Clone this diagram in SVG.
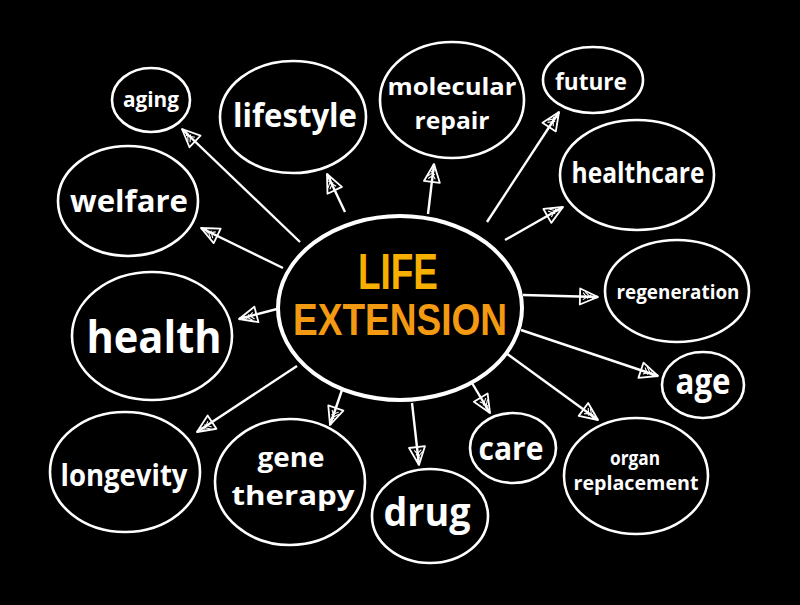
<svg xmlns="http://www.w3.org/2000/svg" width="800" height="605" viewBox="0 0 800 605">
<defs>
<style>
.bub{fill:none;stroke:#fff;stroke-width:2.6}
.t{fill:#fff;font-family:"Open Sans","Liberation Sans",sans-serif;font-weight:700;text-anchor:middle}
.c{font-family:"Liberation Sans","Open Sans",sans-serif;font-weight:700;text-anchor:middle}
.ln{stroke:#fff;stroke-width:2.4;fill:none}
</style>
<marker id="ah" viewBox="-2 -10 22 20" refX="18" refY="0" markerWidth="22" markerHeight="20" markerUnits="userSpaceOnUse" orient="auto">
<path d="M0,-8 L18,0 L0,8 Z" fill="none" stroke="#fff" stroke-width="1.8" stroke-linejoin="round"/>
<path d="M3,-4 L8,2 M5,-5 L11,1 M3,3 L9,-1 M10,-2 L13,2" stroke="#fff" stroke-width="1.1" fill="none"/>
</marker>
</defs>
<rect width="800" height="605" fill="#000"/>
<g id="connectors">
<line class="ln" x1="300" y1="242" x2="182" y2="129" marker-end="url(#ah)"/>
<line class="ln" x1="345" y1="212" x2="327" y2="174" marker-end="url(#ah)"/>
<line class="ln" x1="283" y1="268" x2="201" y2="228" marker-end="url(#ah)"/>
<line class="ln" x1="428" y1="214" x2="434" y2="164" marker-end="url(#ah)"/>
<line class="ln" x1="487" y1="222" x2="559" y2="112" marker-end="url(#ah)"/>
<line class="ln" x1="505" y1="240" x2="563" y2="207" marker-end="url(#ah)"/>
<line class="ln" x1="277" y1="309" x2="239" y2="319" marker-end="url(#ah)"/>
<line class="ln" x1="523" y1="295" x2="598" y2="297" marker-end="url(#ah)"/>
<line class="ln" x1="521" y1="330" x2="658" y2="376" marker-end="url(#ah)"/>
<line class="ln" x1="297" y1="366" x2="197" y2="432" marker-end="url(#ah)"/>
<line class="ln" x1="342" y1="390" x2="330" y2="425" marker-end="url(#ah)"/>
<line class="ln" x1="412" y1="403" x2="419" y2="465" marker-end="url(#ah)"/>
<line class="ln" x1="472" y1="383" x2="490" y2="413" marker-end="url(#ah)"/>
<line class="ln" x1="506" y1="353" x2="598" y2="420" marker-end="url(#ah)"/>
</g>
<g id="center">
<ellipse cx="400" cy="308" rx="122" ry="92" fill="#000" stroke="#fff" stroke-width="4"/>
<text class="c" x="398" y="289" font-size="50" fill="#f8b000" textLength="80" lengthAdjust="spacingAndGlyphs">LIFE</text>
<text class="c" x="400" y="335" font-size="44" fill="#f39a12" textLength="214" lengthAdjust="spacingAndGlyphs">EXTENSION</text>
</g>
<g id="aging"><ellipse class="bub" cx="151" cy="100" rx="39" ry="32"/><text class="t" x="151" y="107" font-size="22" textLength="56" lengthAdjust="spacingAndGlyphs">aging</text></g>
<g id="lifestyle"><ellipse class="bub" cx="293" cy="117" rx="73" ry="56"/><text class="t" x="295" y="127" font-size="32" textLength="124" lengthAdjust="spacingAndGlyphs">lifestyle</text></g>
<g id="molecular-repair"><ellipse class="bub" cx="452" cy="100" rx="72" ry="58"/><text class="t" x="452" y="95" font-size="24" textLength="129" lengthAdjust="spacingAndGlyphs">molecular</text><text class="t" x="452" y="129" font-size="24" textLength="75" lengthAdjust="spacingAndGlyphs">repair</text></g>
<g id="future"><ellipse class="bub" cx="593" cy="80" rx="50" ry="33"/><text class="t" x="591" y="90" font-size="24" textLength="72" lengthAdjust="spacingAndGlyphs">future</text></g>
<g id="healthcare"><ellipse class="bub" cx="637" cy="175" rx="77" ry="55"/><text class="t" x="638" y="183" font-size="28" textLength="133" lengthAdjust="spacingAndGlyphs">healthcare</text></g>
<g id="welfare"><ellipse class="bub" cx="128" cy="201" rx="70" ry="55"/><text class="t" x="129" y="212" font-size="30" textLength="118" lengthAdjust="spacingAndGlyphs">welfare</text></g>
<g id="regeneration"><ellipse class="bub" cx="677" cy="291" rx="72" ry="51"/><text class="t" x="678" y="299" font-size="20" textLength="123" lengthAdjust="spacingAndGlyphs">regeneration</text></g>
<g id="health"><ellipse class="bub" cx="152" cy="336" rx="80" ry="64"/><text class="t" x="154" y="353" font-size="44" textLength="135" lengthAdjust="spacingAndGlyphs">health</text></g>
<g id="age"><ellipse class="bub" cx="703" cy="385" rx="41" ry="33"/><text class="t" x="703" y="394" font-size="36" textLength="55" lengthAdjust="spacingAndGlyphs">age</text></g>
<g id="longevity"><ellipse class="bub" cx="125" cy="472" rx="75" ry="60"/><text class="t" x="124" y="486" font-size="30" textLength="127" lengthAdjust="spacingAndGlyphs">longevity</text></g>
<g id="gene-therapy"><ellipse class="bub" cx="290" cy="482" rx="75" ry="63"/><text class="t" x="291" y="467" font-size="27" textLength="67" lengthAdjust="spacingAndGlyphs">gene</text><text class="t" x="293" y="505" font-size="27" textLength="123" lengthAdjust="spacingAndGlyphs">therapy</text></g>
<g id="drug"><ellipse class="bub" cx="430" cy="516" rx="58" ry="47"/><text class="t" x="427" y="526" font-size="40" textLength="87" lengthAdjust="spacingAndGlyphs">drug</text></g>
<g id="care"><ellipse class="bub" cx="513" cy="448" rx="43" ry="35"/><text class="t" x="511" y="460" font-size="32" textLength="65" lengthAdjust="spacingAndGlyphs">care</text></g>
<g id="organ-replacement"><ellipse class="bub" cx="636" cy="476" rx="72" ry="58"/><text class="t" x="635" y="465" font-size="20" textLength="50" lengthAdjust="spacingAndGlyphs">organ</text><text class="t" x="636" y="490" font-size="20" textLength="125" lengthAdjust="spacingAndGlyphs">replacement</text></g>
</svg>
